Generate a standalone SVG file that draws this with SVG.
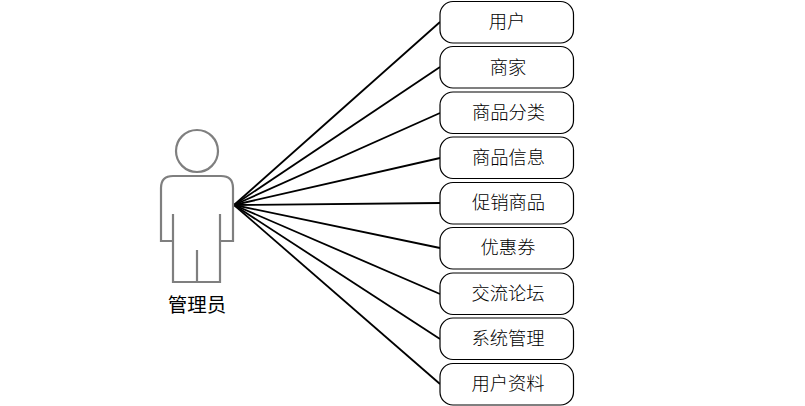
<svg xmlns="http://www.w3.org/2000/svg" width="805" height="406" viewBox="0 0 805 406">
<style>
.box{fill:#fff;stroke:#000;stroke-width:1.2;}
.t{font-family:"Noto Sans CJK SC",sans-serif;font-size:18.300px;font-weight:300;fill:#000;text-anchor:middle;}
.c line{stroke:#000;stroke-width:1.8;}
.p{fill:none;stroke:#7f7f7f;stroke-width:2.2;}
</style>
<rect width="805" height="406" fill="#fff"/>
<g id="connectors" class="c">
<line x1="234" y1="205" x2="440" y2="22"/>
<line x1="234" y1="205" x2="440" y2="67"/>
<line x1="234" y1="205" x2="440" y2="113"/>
<line x1="234" y1="205" x2="440" y2="158"/>
<line x1="234" y1="205" x2="440" y2="203"/>
<line x1="234" y1="205" x2="440" y2="248"/>
<line x1="234" y1="205" x2="440" y2="294"/>
<line x1="234" y1="205" x2="440" y2="339"/>
<line x1="234" y1="205" x2="440" y2="384"/>
</g>
<g id="actor">
<circle class="p" cx="197" cy="151" r="21"/>
<path class="p" d="M173 214V241H161V188Q161 176 173 176H221Q233 176 233 188V241H220V214M173 241V282H220V241M197 250V282"/>
<text x="197" y="312" style="font-family:'Noto Sans CJK SC',sans-serif;font-size:19.500px;fill:#000;text-anchor:middle">管理员</text>
</g>
<g id="n1"><rect class="box" x="440" y="1.5" width="133.500" height="41.500" rx="13"/><text class="t" x="507" y="28">用户</text></g>
<g id="n2"><rect class="box" x="440" y="46.500" width="133.500" height="41.500" rx="13"/><text class="t" x="508" y="74">商家</text></g>
<g id="n3"><rect class="box" x="440" y="92" width="133.500" height="41.500" rx="13"/><text class="t" x="508.500" y="119">商品分类</text></g>
<g id="n4"><rect class="box" x="440" y="137" width="133.500" height="41.500" rx="13"/><text class="t" x="508.500" y="164">商品信息</text></g>
<g id="n5"><rect class="box" x="440" y="182.500" width="133.500" height="41.500" rx="13"/><text class="t" x="508.500" y="209">促销商品</text></g>
<g id="n6"><rect class="box" x="440" y="227.500" width="133.500" height="41.500" rx="13"/><text class="t" x="508" y="254">优惠券</text></g>
<g id="n7"><rect class="box" x="440" y="273" width="133.500" height="41.500" rx="13"/><text class="t" x="508" y="300">交流论坛</text></g>
<g id="n8"><rect class="box" x="440" y="318" width="133.500" height="41.500" rx="13"/><text class="t" x="508" y="345">系统管理</text></g>
<g id="n9"><rect class="box" x="440" y="363.500" width="133.500" height="41.500" rx="13"/><text class="t" x="508" y="390">用户资料</text></g>
</svg>
